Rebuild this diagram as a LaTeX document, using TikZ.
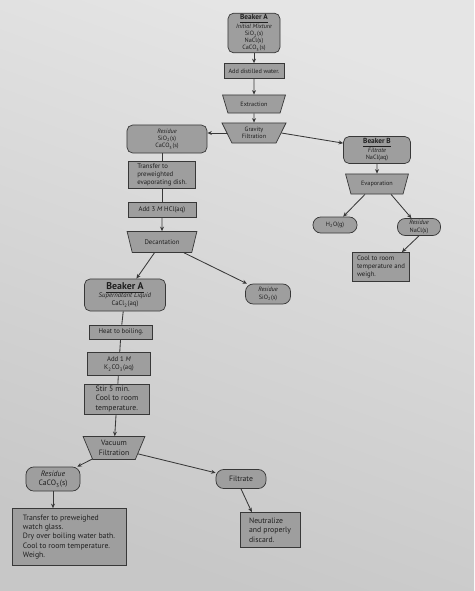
\documentclass[tikz,border=0pt]{standalone}
\usepackage{fontspec}
\setmainfont{PT Sans}
\usetikzlibrary{shapes.geometric,arrows.meta,calc}
\definecolor{paperlight}{gray}{0.90}
\definecolor{paperdark}{gray}{0.78}
\definecolor{boxgray}{gray}{0.62}
\definecolor{edgegray}{gray}{0.22}
\definecolor{inkgray}{gray}{0.12}
\newcommand\chemsub[1]{\textsubscript{#1}}
\begin{document}
\begin{tikzpicture}[x=0.025cm, y=-0.025cm,
  base/.style={draw=edgegray, fill=boxgray, line width=0.5pt, text=inkgray, inner sep=1pt, align=center},
  stepbox/.style={base, rectangle},
  beaker/.style={base, rounded corners=4pt},
  pill/.style={base, rounded corners=5.5pt},
  funnel/.style={base, trapezium, trapezium angle=67, trapezium stretches=true, shape border rotate=180},
  small/.style={font=\fontsize{4.4}{5.1}\selectfont},
  medium/.style={font=\fontsize{4.8}{5.6}\selectfont},
  large/.style={font=\fontsize{5.5}{6.7}\selectfont},
  arr/.style={draw=edgegray, line width=0.6pt, -{Stealth[length=3.2pt,width=2.8pt]}},
  link/.style={draw=edgegray, line width=0.6pt}]
  \shade[top color=paperlight, bottom color=paperdark, shading angle=-20] (0,0) rectangle (474,591);

  \node[beaker, small, minimum width=1.3cm, minimum height=0.95cm] (beakerA) at (254,33)
    {{\fontsize{5.2}{5.6}\selectfont\textbf{\underline{Beaker A}}}\\\textit{Initial Mixture}\\SiO\chemsub{2}(s)\\NaCl(s)\\CaCO\chemsub{3}(s)};
  \node[stepbox, small, minimum width=1.5cm, minimum height=0.375cm] (water) at (254,71) {Add distilled water.};
  \node[funnel, small, minimum width=1.575cm, minimum height=0.45cm] (extract) at (254,104) {Extraction};
  \node[funnel, small, minimum width=1.6cm, minimum height=0.5cm] (gravity) at (254,133) {Gravity\\Filtration};
  \node[beaker, small, minimum width=2.0cm, minimum height=0.7cm] (resA) at (167,139)
    {\textit{Residue}\\SiO\chemsub{2}(s)\\CaCO\chemsub{3}(s)};
  \node[beaker, small, minimum width=1.675cm, minimum height=0.675cm] (beakerB) at (377,150)
    {{\fontsize{5.2}{5.6}\selectfont\textbf{\underline{Beaker B}}}\\\textit{Filtrate}\\NaCl(aq)};
  \node[funnel, small, minimum width=1.575cm, minimum height=0.5cm] (evap) at (377,184) {Evaporation};
  \node[pill, small, minimum width=1.1cm, minimum height=0.4cm] (h2o) at (335,225) {H\chemsub{2}O(g)};
  \node[pill, small, minimum width=1.075cm, minimum height=0.425cm] (resNa) at (419,227) {\textit{Residue}\\NaCl(s)};
  \node[stepbox, medium, align=left, minimum width=1.425cm, minimum height=0.725cm] (cool) at (381,267)
    {Cool to room\\temperature and\\weigh.};
  \node[stepbox, medium, align=left, minimum width=1.675cm, minimum height=0.675cm] (transfer1) at (162,175)
    {Transfer to\\preweighted\\evaporating dish.};
  \node[stepbox, medium, minimum width=1.7cm, minimum height=0.375cm] (hcl) at (162,210) {Add 3 \textit{M} HCl(aq)};
  \node[funnel, medium, minimum width=1.75cm, minimum height=0.525cm] (decant) at (162,242) {Decantation};
  \node[beaker, medium, minimum width=2.025cm, minimum height=0.8cm] (beakerA2) at (125,295)
    {{\fontsize{7}{7.6}\selectfont\textbf{\underline{Beaker A}}}\\\textit{Supernatant Liquid}\\CaCl\chemsub{2}(aq)};
  \node[pill, small, minimum width=1.125cm, minimum height=0.5cm] (resSi) at (268,294) {\textit{Residue}\\SiO\chemsub{2}(s)};
  \node[stepbox, medium, minimum width=1.575cm, minimum height=0.35cm] (heat) at (121,332) {Heat to boiling.};
  \node[stepbox, medium, minimum width=1.575cm, minimum height=0.575cm] (k2co3) at (119,364)
    {Add 1 \textit{M}\\K\chemsub{2}CO\chemsub{3}(aq)};
  \node[stepbox, large, align=left, minimum width=1.625cm, minimum height=0.75cm] (stir) at (117,399)
    {Stir 5 min.\\Cool to room\\temperature.};
  \node[funnel, large, minimum width=1.55cm, minimum height=0.575cm] (vacuum) at (114,448) {Vacuum\\Filtration};
  \node[pill, large, minimum width=1.35cm, minimum height=0.6cm] (resCa) at (53,479) {\textit{Residue}\\CaCO\chemsub{3}(s)};
  \node[pill, large, minimum width=1.25cm, minimum height=0.475cm] (filtrate) at (241,479) {Filtrate};
  \node[stepbox, large, align=left, minimum width=2.85cm, minimum height=1.425cm] (transfer2) at (69,537)
    {Transfer to preweighed\\watch glass.\\Dry over boiling water bath.\\Cool to room temperature.\\Weigh.};
  \node[stepbox, large, align=left, minimum width=1.5cm, minimum height=0.875cm] (neutral) at (270,530)
    {Neutralize\\and properly\\discard.};

  \draw[arr] (beakerA) -- (water);
  \draw[arr] (water) -- (extract);
  \draw[arr] (extract) -- (gravity);
  \draw[arr] (gravity.west) -- (gravity.west -| resA.east);
  \draw[arr] (gravity.east) -- ($(beakerB.north west)+(0,7)$);
  \draw[link] (resA.south -| transfer1.north) -- (transfer1.north);
  \draw[link] (transfer1) -- (hcl);
  \draw[arr] (hcl) -- (decant);
  \draw[arr] (decant) -- (beakerA2);
  \draw[arr] (decant) -- (resSi);
  \draw[link] (beakerA2) -- (heat);
  \draw[link] (heat) -- (k2co3);
  \draw[link] (k2co3) -- (stir);
  \draw[arr] (stir) -- (vacuum);
  \draw[arr] (vacuum) -- (resCa);
  \draw[arr] (vacuum) -- (filtrate);
  \draw[arr] (resCa) -- (resCa |- transfer2.north);
  \draw[arr] (filtrate.south) -- ($(neutral.north west)!0.2!(neutral.north east)$);
  \draw[arr] (beakerB) -- (evap);
  \draw[arr] ($(evap.south)+(-12,0)$) -- (h2o);
  \draw[arr] ($(evap.south)+(14,0)$) -- (resNa);
  \draw[arr] (resNa.south) -- ($(cool.north east)+(-8,0)$);
\end{tikzpicture}
\end{document}
